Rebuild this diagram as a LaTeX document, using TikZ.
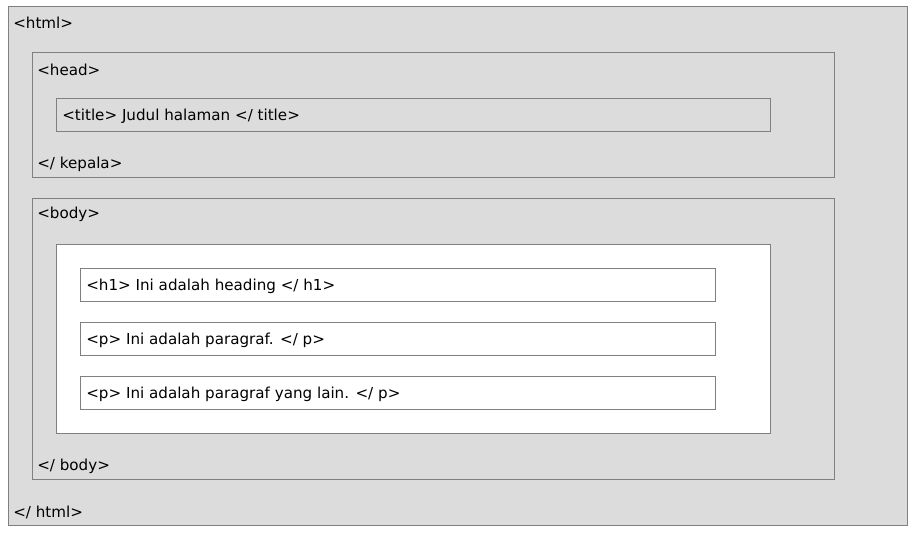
\documentclass[tikz,border=0pt]{standalone}
\usepackage{fontspec}
\setmainfont{DejaVu Sans}
\definecolor{boxgray}{HTML}{DCDCDC}
\definecolor{edgegray}{HTML}{808080}
\begin{document}
\begin{tikzpicture}[x=0.75pt,y=-0.75pt,
  graybox/.style={draw=edgegray,fill=boxgray,line width=0.75pt},
  whitebox/.style={draw=edgegray,fill=white,line width=0.75pt},
  tag/.style={anchor=west,inner sep=0pt,font=\fontsize{11.35pt}{13.5pt}\selectfont,text=black}]
\useasboundingbox[fill=white] (0,0) rectangle (913,537);
\draw[graybox] (8.5,6.5) rectangle (907.5,525.5);
\draw[graybox] (32.5,52.5) rectangle (834.5,177.5);
\draw[graybox] (56.5,98.5) rectangle (770.5,131.5);
\draw[graybox] (32.5,198.5) rectangle (834.5,479.5);
\draw[whitebox] (56.5,244.5) rectangle (770.5,433.5);
\draw[whitebox] (80.5,268.5) rectangle (715.5,301.5);
\draw[whitebox] (80.5,322.5) rectangle (715.5,355.5);
\draw[whitebox] (80.5,376.5) rectangle (715.5,409.5);
\node[tag] (htmlopen) at (13,22.5) {<html>};
\node[tag] (headopen) at (37,69.5) {<head>};
\node[tag] (title) at (62,116.5) {<title> Judul halaman </ title>};
\node[tag] (headclose) at (37,164.5) {</ kepala>};
\node[tag] (bodyopen) at (37,214.5) {<body>};
\node[tag] (hone) at (86,286.5) {<h1> Ini adalah heading </ h1>};
\node[tag] (pone) at (86,340.5) {<p> Ini adalah paragraf. </ p>};
\node[tag] (ptwo) at (86,394.5) {<p> Ini adalah paragraf yang lain. </ p>};
\node[tag] (bodyclose) at (37,466.5) {</ body>};
\node[tag] (htmlclose) at (13,512.5) {</ html>};
\end{tikzpicture}
\end{document}
